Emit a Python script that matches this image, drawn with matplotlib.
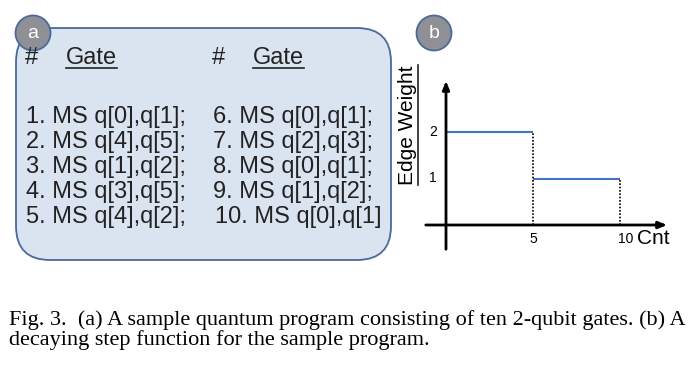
import matplotlib.pyplot as plt
from matplotlib.patches import FancyBboxPatch, Circle

# panel (a): the ten gates
gate_nums = [1, 2, 3, 4, 5, 6, 7, 8, 9, 10]
gates = ["MS q[0],q[1];", "MS q[4],q[5];", "MS q[1],q[2];", "MS q[3],q[5];",
         "MS q[4],q[2];", "MS q[0],q[1];", "MS q[2],q[3];", "MS q[0],q[1];",
         "MS q[1],q[2];", "MS q[0],q[1]"]

# panel (b): decaying step function
step_x = [0, 5, 10]
step_y = [2, 1]
x_ticks = [5, 10]
y_ticks = [1, 2]

caption = ["Fig. 3.  (a) A sample quantum program consisting of ten 2-qubit gates. (b) A",
           "decaying step function for the sample program."]

W, H = 694, 368
fig = plt.figure(figsize=(W / 100, H / 100), dpi=100)
ov = fig.add_axes([0, 0, 1, 1])
ov.set_xlim(0, W)
ov.set_ylim(H, 0)
ov.axis("off")

sans = "Liberation Sans"
edge = "#4a6a9a"

box = FancyBboxPatch((16, 28), 375, 232, boxstyle="round,pad=0,rounding_size=34",
                     facecolor="#dae3f0", edgecolor=edge, lw=1.3)
ov.add_patch(box)

for cx, cy, lab in [(33, 33, "a"), (434, 33, "b")]:
    ov.add_patch(Circle((cx, cy), 17.5, facecolor="#8e9096", edgecolor=edge, lw=1.3, zorder=3))
    ov.text(cx, cy + 1, lab, color="white", fontsize=14, family=sans,
            ha="center", va="center", zorder=4)

fig.canvas.draw()
rend = fig.canvas.get_renderer()


def underline(t, ax, vertical=False):
    bb = t.get_window_extent(rend).transformed(ax.transData.inverted())
    if vertical:
        x = max(bb.x0, bb.x1) + 1
        ax.plot([x, x], [bb.y0, bb.y1], color="#222222", lw=1.2)
    else:
        y = max(bb.y0, bb.y1) - 1
        ax.plot([bb.x0, bb.x1], [y, y], color="#222222", lw=1.2)


tc = "#222222"
fs = 17
for hx, gx in [(25, 66), (212, 253)]:
    ov.text(hx, 58, "#", fontsize=fs, family=sans, color=tc, va="center")
    t = ov.text(gx, 58, "Gate", fontsize=fs, family=sans, color=tc, va="center")
    underline(t, ov)

for i, (n, g) in enumerate(zip(gate_nums, gates)):
    col, row = divmod(i, 5)
    x = 26 if col == 0 else (213 if n < 10 else 215)
    ov.text(x, 117 + row * 25, f"{n}. {g}", fontsize=fs, family=sans, color=tc, va="center")

for k, line in enumerate(caption):
    ov.text(9, 320 + k * 20, line, fontsize=16, family="Liberation Serif", va="center")

# panel (b) axes in data units
px_x, px_y = 17.4, 46.5
x0p, y0p = 446, 225
left, right, top, bottom = 423, 670, 78, 252
ax = fig.add_axes([left / W, 1 - bottom / H, (right - left) / W, (bottom - top) / H])
ax.set_xlim((left - x0p) / px_x, (right - x0p) / px_x)
ax.set_ylim((y0p - bottom) / px_y, (y0p - top) / px_y)
ax.axis("off")
xl, yl = ax.get_xlim(), ax.get_ylim()
arrow = dict(arrowstyle="-|>,head_length=0.5,head_width=0.2", color="black", lw=2)
ax.annotate("", xy=(xl[1], 0), xytext=(xl[0], 0), arrowprops=arrow)
ax.annotate("", xy=(0, yl[1]), xytext=(0, yl[0]), arrowprops=arrow)

ax.hlines(step_y, step_x[:-1], step_x[1:], colors="#4472c4", lw=1.5)
ax.vlines(step_x[1:], 0, step_y, colors="black", lw=1.2, linestyles=(0, (1, 1)))

for v in y_ticks:
    ax.text(-0.75, v, str(v), fontsize=10, family=sans, ha="center", va="center")
for v in x_ticks:
    ax.text(v + (0.35 if v == 10 else 0), -0.3, str(v), fontsize=10, family=sans,
            ha="center", va="center")

t = ax.text(10.95, -0.3, "Cnt", fontsize=15, family=sans, va="center")
underline(t, ax)
t = ov.text(408, 125, "Edge Weight", fontsize=15, family=sans, rotation=90,
            ha="center", va="center")
underline(t, ov, vertical=True)

fig.savefig("out.png", dpi=100)
